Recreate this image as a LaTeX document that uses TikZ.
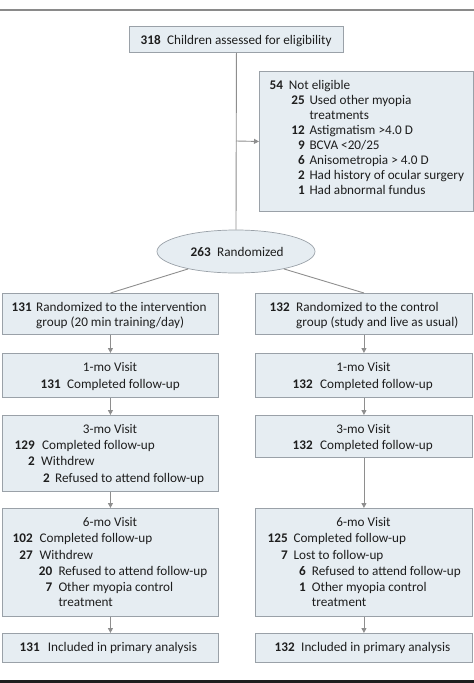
\documentclass[tikz,border=0pt]{standalone}
\usepackage{fontspec}
\setmainfont{Carlito}
\usetikzlibrary{arrows.meta,shapes.geometric}
\definecolor{boxfill}{HTML}{E6EDF2}
\definecolor{boxline}{HTML}{9AA1A8}
\definecolor{connc}{HTML}{8E8E8E}
\definecolor{ink}{HTML}{1E1E1E}
\definecolor{rulec}{HTML}{8A8A8A}
\tikzset{
  box/.style={draw=boxline, fill=boxfill, line width=0.9pt, inner sep=0pt, anchor=north west},
  txt/.style={inner sep=0pt, anchor=base west, text=ink, font=\fontsize{13.2}{15}\selectfont},
  ctxt/.style={txt, anchor=base},
  num/.style={txt, anchor=base east, font=\fontsize{13.2}{15}\selectfont\bfseries},
  conn/.style={draw=connc, line width=0.9pt},
  arr/.style={conn, -{Triangle[length=5pt,width=5pt]}},
}
\newcommand\entry[6]{\node[num] (#1n) at (#2,#4) {#5}; \node[txt] (#1t) at (#3,#4) {#6};}
\newcommand\boxat[5]{\node[box, minimum width={#4-#2}, minimum height={#5-#3}] (#1) at (#2,#3) {};}
\begin{document}
\begin{tikzpicture}[x=1pt, y=-1pt]
\useasboundingbox (0,0) rectangle (474,683);
% rules
\draw[rulec, line width=1.5pt] (0,9.8) -- (474,9.8);
\fill[ink] (0,680) rectangle (474,683.5);

% boxes
\boxat{top}{129}{26}{343}{52}
\boxat{ne}{259}{71}{473}{211}
\node[ellipse, draw=boxline, fill=boxfill, line width=0.7pt, minimum width=158, minimum height=43, inner sep=0pt] (rand) at (236,251.5) {};
\boxat{lg}{2}{293}{218}{334}
\boxat{rg}{255}{293}{472}{334}
\boxat{la}{2}{353}{218}{397}
\boxat{ra}{255}{353}{472}{397}
\boxat{lb}{2}{415}{218}{491}
\boxat{rb}{255}{415}{472}{457}
\boxat{lc}{2}{508}{218}{616}
\boxat{rc}{255}{508}{472}{616}
\boxat{ld}{2}{633}{218}{662}
\boxat{rd}{255}{633}{472}{662}

% connectors
\draw[conn] (top.south) -- (rand.north);
\coordinate (branch) at (236,141);
\draw[arr] (branch) -- (ne.west);
\draw[conn] (rand.200) -- (lg.north);
\draw[conn] (rand.340) -- (rg.north);
\draw[arr] (lg.south) -- (la.north);
\draw[arr] (rg.south) -- (ra.north);
\draw[arr] (la.south) -- (lb.north);
\draw[arr] (ra.south) -- (rb.north);
\draw[arr] (lb.south) -- (lc.north);
\draw[arr] (rb.south) -- (rc.north);
\draw[arr] (lc.south) -- (ld.north);
\draw[arr] (rc.south) -- (rd.north);

% texts
\entry{t1}{161}{167}{44.3}{318}{Children assessed for eligibility}

\entry{n1}{283.3}{288.7}{89}{54}{Not eligible}
\entry{n2}{305}{309.3}{104}{25}{Used other myopia}
\node[txt] (n3t) at (309.3,119) {treatments};
\entry{n4}{305}{309.3}{134}{12}{Astigmatism >4.0 D}
\entry{n5}{305}{309.3}{149}{9}{BCVA <20/25}
\entry{n6}{305}{309.3}{164}{6}{Anisometropia > 4.0 D}
\entry{n7}{305}{309.3}{179}{2}{Had history of ocular surgery}
\entry{n8}{305}{309.3}{194}{1}{Had abnormal fundus}

\entry{r1}{211}{217}{256.5}{263}{Randomized}

\entry{g1}{32}{36}{311.7}{131}{Randomized to the intervention}
\node[txt] (g2t) at (36,326.7) {group (20 min training/day)};
\entry{h1}{290}{296}{311.7}{132}{Randomized to the control}
\node[txt] (h2t) at (296,326.7) {group (study and live as usual)};

\node[ctxt] (a0) at (110,371.7) {1-mo Visit};
\entry{a1}{61}{67}{388.3}{131}{Completed follow-up}
\node[ctxt] (b0) at (363.5,371.7) {1-mo Visit};
\entry{b1}{313}{320}{388.3}{132}{Completed follow-up}

\node[ctxt] (c0) at (110,433.3) {3-mo Visit};
\entry{c1}{35}{42}{449.7}{129}{Completed follow-up}
\entry{c2}{35}{41}{465.7}{2}{Withdrew}
\entry{c3}{50}{55}{482}{2}{Refused to attend follow-up}
\node[ctxt] (d0) at (363.5,433.3) {3-mo Visit};
\entry{d1}{313}{320}{449.7}{132}{Completed follow-up}

\node[ctxt] (e0) at (110,526) {6-mo Visit};
\entry{e1}{33}{39.5}{542.5}{102}{Completed follow-up}
\entry{e2}{33}{39.5}{559}{27}{Withdrew}
\entry{e3}{52.5}{58.3}{575.3}{20}{Refused to attend follow-up}
\entry{e4}{52.5}{58.3}{591.7}{7}{Other myopia control}
\node[txt] (e5t) at (58.3,606.7) {treatment};
\node[ctxt] (f0) at (363.5,526) {6-mo Visit};
\entry{f1}{288}{293.3}{542.5}{125}{Completed follow-up}
\entry{f2}{288}{293.3}{559}{7}{Lost to follow-up}
\entry{f3}{306}{311.7}{575.3}{6}{Refused to attend follow-up}
\entry{f4}{306}{311.7}{591.7}{1}{Other myopia control}
\node[txt] (f5t) at (311.7,606.7) {treatment};

\entry{x1}{40}{47.7}{651.7}{131}{Included in primary analysis}
\entry{y1}{295}{301}{651.7}{132}{Included in primary analysis}
\end{tikzpicture}
\end{document}
